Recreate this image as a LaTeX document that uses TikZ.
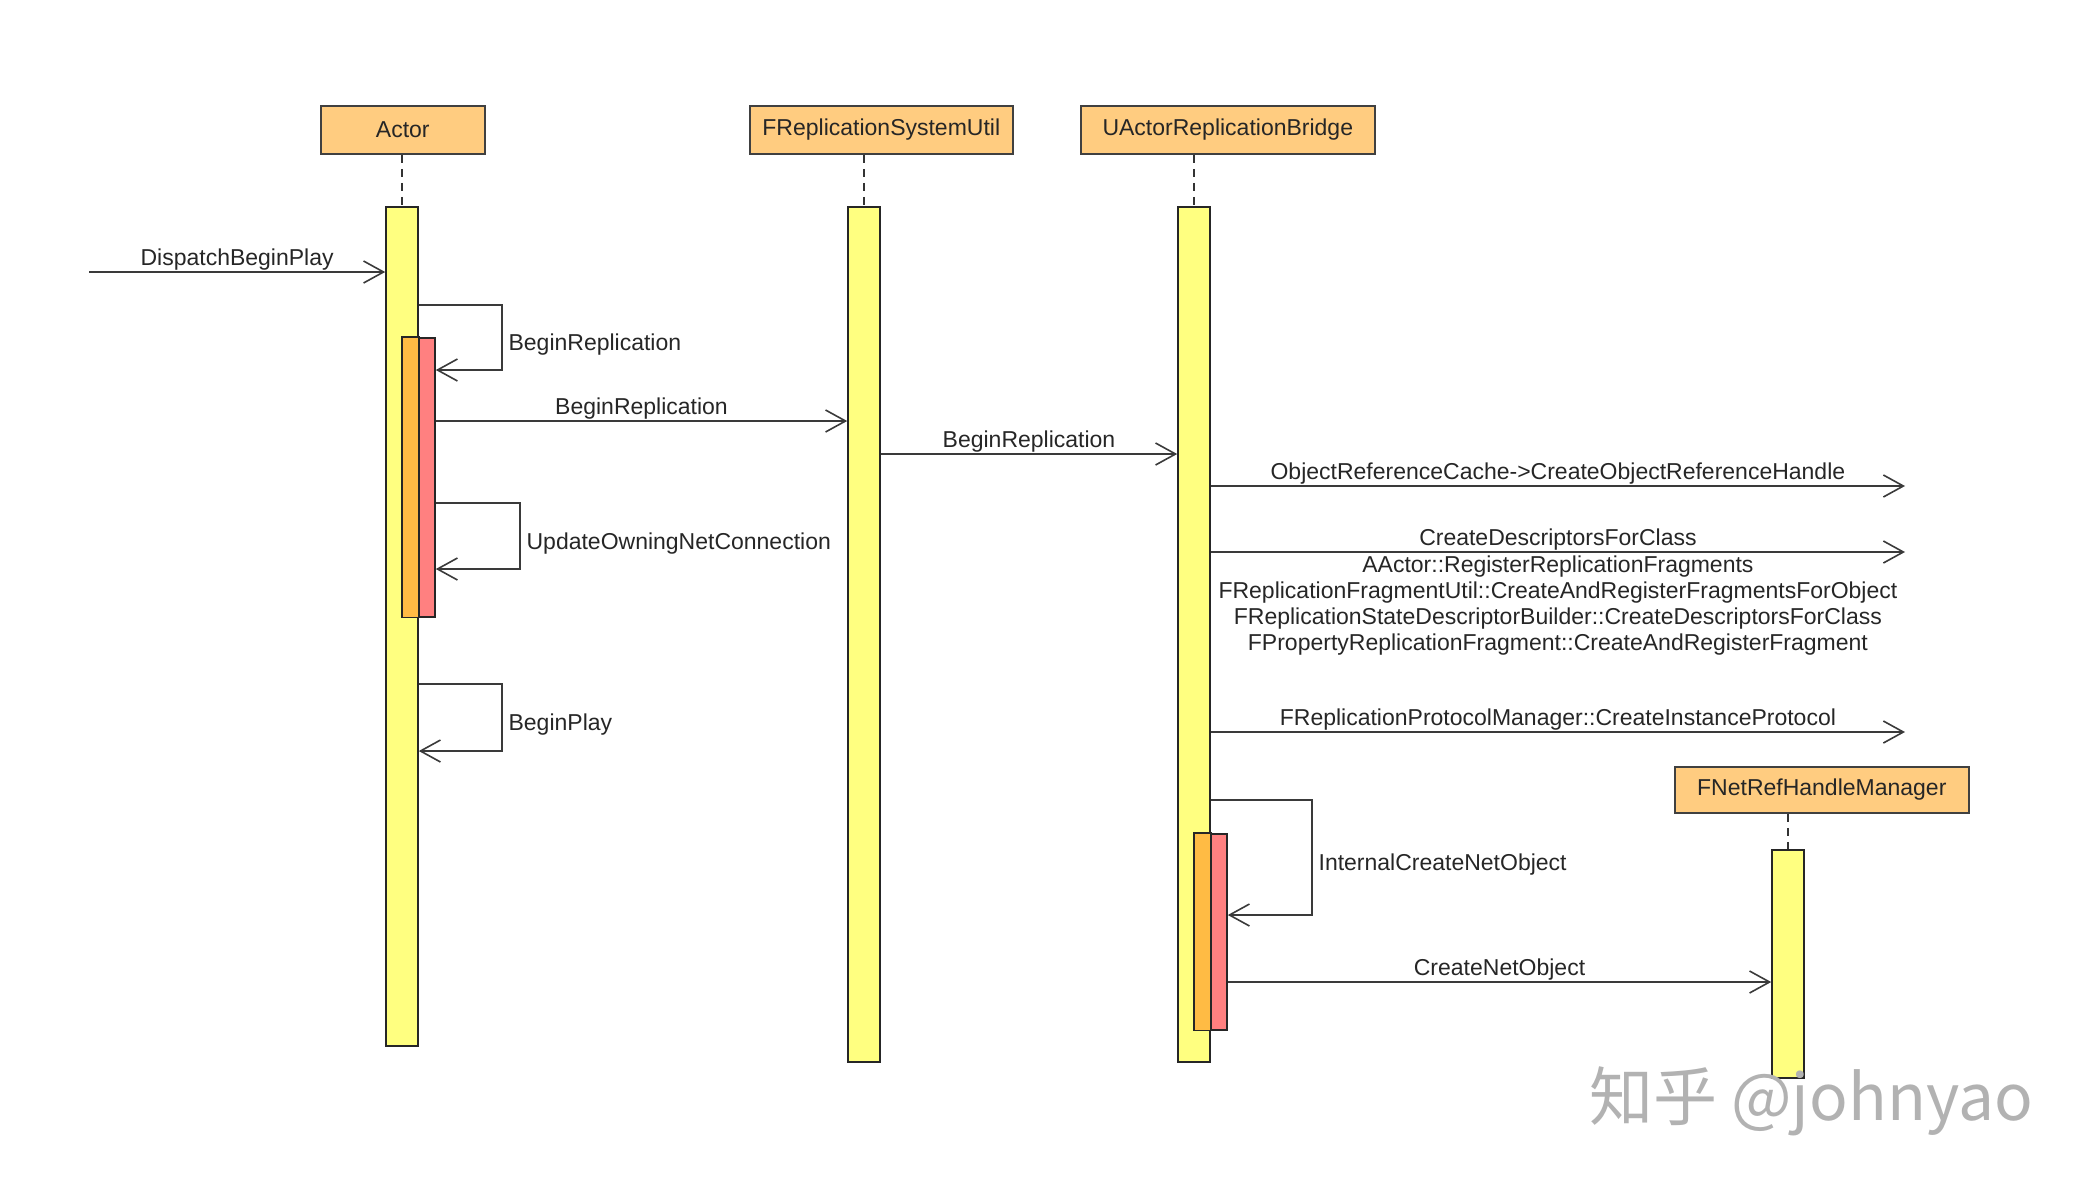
\documentclass[tikz,border=0pt]{standalone}
\usepackage{fontspec}
\setmainfont{Liberation Sans}
\newfontfamily\cjk{Noto Sans CJK SC}
\usetikzlibrary{arrows.meta, positioning}
\definecolor{headfill}{HTML}{FFCC80}
\definecolor{barfill}{HTML}{FFFF80}
\definecolor{nestfill}{HTML}{FF8080}
\definecolor{overlapfill}{HTML}{FFBB44}
\definecolor{linegray}{HTML}{3A3A3A}
\newcommand{\msgfont}{\fontsize{11.5}{13}\selectfont}
\tikzset{
    headbox/.style={rectangle, draw=black!75, fill=headfill, line width=0.8pt, minimum height=24pt, inner sep=0pt, font=\msgfont, text=black!85, anchor=west},
    barbox/.style={rectangle, draw=black!85, fill=barfill, line width=0.8pt, minimum width=16pt, inner sep=0pt, anchor=north},
    nestbox/.style={barbox, fill=nestfill},
    lifeline/.style={draw=black!80, line width=0.8pt, dash pattern=on 4pt off 3pt},
}

\begin{document}
\begin{tikzpicture}[
  x=0.5pt, y=-0.5pt,
  msg/.style={linegray, line width=0.8pt, -{Straight Barb[length=10pt, width=11pt]}},
  lbl/.style={font=\msgfont, text=black!85, inner sep=0.3pt, text height=8.5pt, text depth=2.5pt},
  selflbl/.style={lbl, inner sep=3pt, yshift=-3.5pt}
]
\useasboundingbox (0,0) rectangle (2080,1190);

% Heads
\node[headbox, minimum width=82pt] (actor) at (320,130) {Actor};
\node[headbox, minimum width=131.5pt] (sysutil) at (749,130) {FReplicationSystemUtil};
\node[headbox, minimum width=147pt] (bridge) at (1080,130) {UActorReplicationBridge};
\node[headbox, minimum width=147pt, minimum height=23pt] (handlemgr) at (1674,790) {FNetRefHandleManager};

% Activation bars
\node[barbox, minimum height=419.5pt] (actorbar) at (402,206) {};
\node[barbox, minimum height=427.5pt] (sysutilbar) at (864,206) {};
\node[barbox, minimum height=427.5pt] (bridgebar) at (1194,206) {};
\node[barbox, minimum height=114pt] (handlebar) at (1788,849) {};

\draw[lifeline] (actor.south -| actorbar.north) -- (actorbar.north);
\draw[lifeline] (sysutil.south -| sysutilbar.north) -- (sysutilbar.north);
\draw[lifeline] (bridge.south -| bridgebar.north) -- (bridgebar.north);
\draw[lifeline] (handlemgr.south -| handlebar.north) -- (handlebar.north);

% Nested activations
\node[nestbox, minimum height=139.5pt] (actornest) at (419,337) {};
\path[draw=black!85, fill=overlapfill, line width=0.8pt] (actornest.north west) rectangle (actorbar.east |- actornest.south);
\node[nestbox, minimum height=98pt] (bridgenest) at (1211,833) {};
\path[draw=black!85, fill=overlapfill, line width=0.8pt] (bridgenest.north west) rectangle (bridgebar.east |- bridgenest.south);

% Actor messages
\coordinate (start) at (89,272);
\draw[msg] (start) -- node[lbl, above] {DispatchBeginPlay} (actorbar.west |- start);
\draw[msg] (actorbar.east |- 0,305) -- ++(83,0) -- node[selflbl, right] {BeginReplication} ++(0,65) -- (actornest.east |- 0,370);
\draw[msg] (actornest.east |- 0,421) -- node[lbl, above] {BeginReplication} (sysutilbar.west |- 0,421);
\draw[msg] (actornest.east |- 0,503) -- ++(84,0) -- node[selflbl, right] {UpdateOwningNetConnection} ++(0,66) -- (actornest.east |- 0,569);
\draw[msg] (actorbar.east |- 0,684) -- ++(83,0) -- node[selflbl, right] {BeginPlay} ++(0,67) -- (actorbar.east |- 0,751);

% Bridge messages
\draw[msg] (sysutilbar.east |- 0,454) -- node[lbl, above] {BeginReplication} (bridgebar.west |- 0,454);
\coordinate (refend) at (1905,486);
\coordinate (descend) at (1905,552);
\coordinate (protoend) at (1905,732);
\draw[msg] (bridgebar.east |- refend) -- node[lbl, above] {ObjectReferenceCache->CreateObjectReferenceHandle} (refend);
\draw[msg] (bridgebar.east |- descend) -- node[lbl, above] {CreateDescriptorsForClass}
  node[below, font=\msgfont, text=black!85, align=center, inner sep=1.5pt] {AActor::RegisterReplicationFragments\\FReplicationFragmentUtil::CreateAndRegisterFragmentsForObject\\FReplicationStateDescriptorBuilder::CreateDescriptorsForClass\\FPropertyReplicationFragment::CreateAndRegisterFragment} (descend);
\draw[msg] (bridgebar.east |- protoend) -- node[lbl, above] {FReplicationProtocolManager::CreateInstanceProtocol} (protoend);
\draw[msg] (bridgebar.east |- 0,800) -- ++(101,0) -- node[selflbl, right] {InternalCreateNetObject} ++(0,115) -- (bridgenest.east |- 0,915);
\draw[msg] (bridgenest.east |- 0,982) -- node[lbl, above] {CreateNetObject} (handlebar.west |- 0,982);

% Watermark
\node[text=black!30, font=\cjk\fontsize{32}{36}\selectfont] (mark) at (1811,1101) {知乎 @johnyao};
\end{tikzpicture}
\end{document}
